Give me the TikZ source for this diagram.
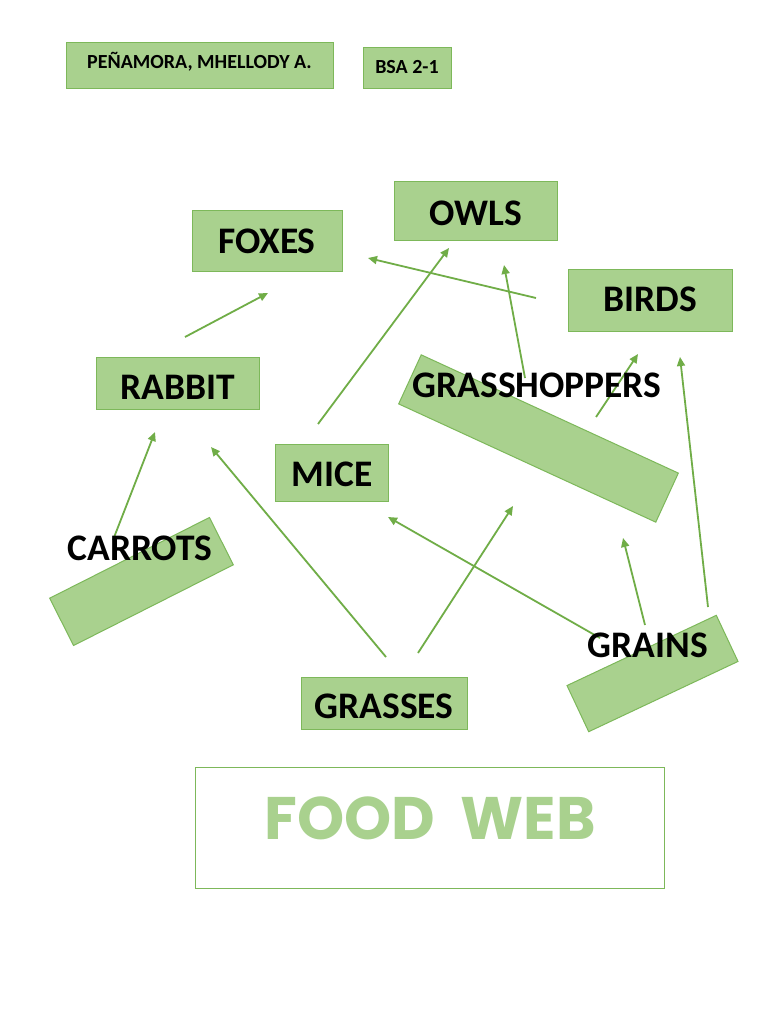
\documentclass[tikz,border=0pt]{standalone}
\usepackage{fontspec}
\setmainfont{Carlito}
\newfontfamily\titlefont{Poppins}
\usetikzlibrary{arrows.meta}
\definecolor{boxfill}{HTML}{A9D18E}
\definecolor{boxline}{HTML}{7DB85A}
\definecolor{arrowgreen}{HTML}{70AD47}
\begin{document}
\begin{tikzpicture}[x=1pt,y=-1pt,
  gbox/.style={draw=boxline,fill=boxfill,line width=1pt,inner sep=0pt},
  bigtext/.style={font=\fontsize{37.5}{40}\selectfont\bfseries,text=black,inner sep=0pt},
  smalltext/.style={font=\fontsize{20}{22}\selectfont\bfseries,text=black,inner sep=0pt},
  link/.style={draw=arrowgreen,line width=1.8pt,-{Triangle[length=9pt,width=8pt]}}]
\useasboundingbox[fill=white] (0,0) rectangle (768,1024);

% header boxes
\node[gbox,minimum width=267pt,minimum height=46pt] (namebox) at (199.5,66) {};
\node[smalltext] (name) at (199.5,62) {PEÑAMORA, MHELLODY A.};
\node[gbox,minimum width=88pt,minimum height=41pt] (secbox) at (407,68.5) {};
\node[smalltext] (sec) at (407,67) {BSA 2-1};

% upright boxes
\node[gbox,minimum width=150pt,minimum height=60pt] (foxbox) at (267,241) {};
\node[gbox,minimum width=163pt,minimum height=58pt] (owlbox) at (475.5,211) {};
\node[gbox,minimum width=164pt,minimum height=62pt] (birdbox) at (650,300) {};
\node[gbox,minimum width=163pt,minimum height=52pt] (rabbox) at (177.5,383) {};
\node[gbox,minimum width=113pt,minimum height=57pt] (micebox) at (331.5,472.5) {};
\node[gbox,minimum width=166pt,minimum height=52pt] (grassbox) at (384,703) {};

% rotated boxes
\node[gbox,rotate=-24.7,minimum width=283pt,minimum height=54pt] (hopbox) at (538.5,438.5) {};
\node[gbox,rotate=26.8,minimum width=179pt,minimum height=53pt] (carbox) at (141.5,581.5) {};
\node[gbox,rotate=25.2,minimum width=165pt,minimum height=51pt] (grainbox) at (652.5,673.5) {};

% title box
\node[draw=boxline,fill=white,line width=1.2pt,minimum width=469pt,minimum height=121pt,inner sep=0pt] (titlebox) at (430,828) {};
\node[font=\titlefont\bfseries\fontsize{60}{66}\selectfont,text=boxfill,inner sep=0pt] (title) at (430,818) {FOOD\ \ WEB};

% connector end points
\coordinate (rabOut) at (185,337);   \coordinate (foxInA) at (268,293);
\coordinate (birdOut) at (536,298);  \coordinate (foxInB) at (368,258);
\coordinate (miceOut) at (318,424);  \coordinate (owlInA) at (449,248);
\coordinate (hopOutA) at (525,378);  \coordinate (owlInB) at (504,265);
\coordinate (hopOutB) at (596,417);  \coordinate (birdInA) at (638,354);
\coordinate (grainOutA) at (708,607);\coordinate (birdInB) at (680,357);
\coordinate (carOut) at (113,540);   \coordinate (rabInA) at (155,432);
\coordinate (grassOutA) at (386,657);\coordinate (rabInB) at (211,447);
\coordinate (grassOutB) at (418,653);\coordinate (hopIn) at (513,506);
\coordinate (grainOutB) at (600,638);\coordinate (miceIn) at (388,517);
\coordinate (grainOutC) at (645,625);\coordinate (hopInB) at (623,538);

\draw[link] (rabOut) -- (foxInA);
\draw[link] (birdOut) -- (foxInB);
\draw[link] (miceOut) -- (owlInA);
\draw[link] (hopOutA) -- (owlInB);
\draw[link] (hopOutB) -- (birdInA);
\draw[link] (grainOutA) -- (birdInB);
\draw[link] (carOut) -- (rabInA);
\draw[link] (grassOutA) -- (rabInB);
\draw[link] (grassOutB) -- (hopIn);
\draw[link] (grainOutB) -- (miceIn);
\draw[link] (grainOutC) -- (hopInB);

% labels
\node[bigtext] (fox) at (267,241) {FOXES};
\node[bigtext] (owl) at (476,213) {OWLS};
\node[bigtext] (bird) at (650,299) {BIRDS};
\node[bigtext] (rab) at (178,387) {RABBIT};
\node[bigtext] (mice) at (332,474) {MICE};
\node[bigtext] (grass) at (384,706) {GRASSES};
\node[bigtext] (hop) at (537,385) {GRASSHOPPERS};
\node[bigtext] (car) at (140,548) {CARROTS};
\node[bigtext] (grain) at (648,645) {GRAINS};
\end{tikzpicture}
\end{document}
